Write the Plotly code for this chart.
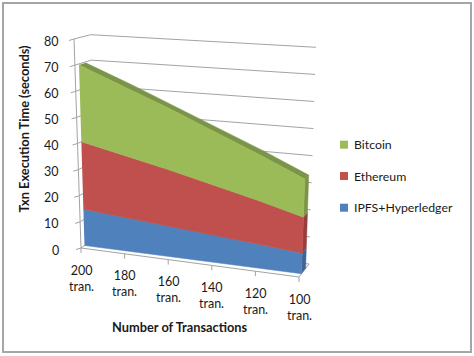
import numpy as np
import plotly.graph_objects as go

categories = ["200<br>tran.", "180<br>tran.", "160<br>tran.", "140<br>tran.", "120<br>tran.", "100<br>tran."]
value_ticks = [0, 10, 20, 30, 40, 50, 60, 70, 80]
ipfs = [14.0, 12.7, 11.4, 10.0, 8.7, 7.4]
ethereum = [26.0, 23.4, 20.9, 18.3, 15.7, 12.9]
bitcoin = [29.6, 26.3, 22.9, 19.7, 16.7, 13.7]
series_names = ["IPFS+Hyperledger", "Ethereum", "Bitcoin"]
face_colors = ["#4f81bd", "#c0504d", "#9bbb59"]
side_colors = ["#3d6596", "#953e3b", "#7a9547"]
GRID = "#a3a3a3"
TEXT = "#1a1a1a"
FONT = "Lato"

# projection corners of the chart box (front/back, bottom/top, left/right)
C = {
    (0, 0, 0): (81, 248), (1, 0, 0): (299, 277), (0, 1, 0): (74, 39), (1, 1, 0): (307, 52),
    (0, 0, 1): (95, 238), (1, 0, 1): (309, 264), (0, 1, 1): (90.7, 34.7), (1, 1, 1): (316, 47.3),
}
Z_FRONT, Z_BACK = 0.25, 0.66


def proj(u, v, z):
    px = py = 0.0
    for i in (0, 1):
        for j in (0, 1):
            for k in (0, 1):
                w = (u if i else 1 - u) * (v if j else 1 - v) * (z if k else 1 - z)
                px += w * C[(i, j, k)][0]
                py += w * C[(i, j, k)][1]
    return px, py


def path(points):
    xy = [proj(*p) for p in points]
    return [a for a, _ in xy], [b for _, b in xy]


fig = go.Figure()


def line(points, color=GRID, width=1):
    x, y = path(points)
    fig.add_trace(go.Scatter(x=x, y=y, mode="lines", line=dict(color=color, width=width),
                             hoverinfo="skip", showlegend=False))


def poly(points, color):
    x, y = path(points)
    fig.add_trace(go.Scatter(x=x, y=y, mode="lines", fill="toself", fillcolor=color,
                             line=dict(color=color, width=0.5), hoverinfo="skip", showlegend=False))


n = len(categories)
us = [i / (n - 1) for i in range(n)]
VMAX = value_ticks[-1]

# walls and floor
for t in value_ticks:
    v = t / VMAX
    line([(0, v, 0), (0, v, 1), (1, v, 1)])
line([(0, 0, 0), (0, 1, 0)])
line([(0, 0, 0), (1, 0, 0), (1, 0, 1)])
for u in us:
    x0, y0 = proj(u, 0, 0)
    fig.add_trace(go.Scatter(x=[x0, x0], y=[y0, y0 + 5], mode="lines", line=dict(color=GRID, width=1),
                             hoverinfo="skip", showlegend=False))
for t in value_ticks:
    x0, y0 = proj(0, t / VMAX, 0)
    fig.add_trace(go.Scatter(x=[x0 - 5, x0], y=[y0 + 1.5, y0], mode="lines", line=dict(color=GRID, width=1),
                             hoverinfo="skip", showlegend=False))

# stacked areas
base = np.zeros(n)
stacks = []
for vals in (ipfs, ethereum, bitcoin):
    top = base + np.array(vals)
    stacks.append((base.copy(), top.copy()))
    base = top

for (lo, hi), side in zip(stacks, side_colors):
    poly([(1, lo[-1] / VMAX, Z_FRONT), (1, hi[-1] / VMAX, Z_FRONT),
          (1, hi[-1] / VMAX, Z_BACK), (1, lo[-1] / VMAX, Z_BACK)], side)

top_vals = stacks[-1][1]
poly([(u, h / VMAX, Z_FRONT) for u, h in zip(us, top_vals)] +
     [(u, h / VMAX, Z_BACK) for u, h in zip(us[::-1], top_vals[::-1])], side_colors[2])

for (lo, hi), color in zip(stacks, face_colors):
    poly([(u, h / VMAX, Z_FRONT) for u, h in zip(us, hi)] +
         [(u, l / VMAX, Z_FRONT) for u, l in zip(us[::-1], lo[::-1])], color)

# tick labels
for t in value_ticks:
    x0, y0 = proj(0, t / VMAX, 0)
    fig.add_annotation(x=61, y=y0 + 2, text=str(t), showarrow=False, xanchor="right", yanchor="middle",
                       font=dict(family=FONT, size=12.5, color=TEXT))
for u, c in zip(us, categories):
    x0, y0 = proj(u, 0, 0)
    fig.add_annotation(x=x0, y=y0 + 30, text=c, showarrow=False, xanchor="center", yanchor="middle",
                       font=dict(family=FONT, size=12.5, color=TEXT), align="center")

fig.add_annotation(x=180, y=327, text="<b>Number of Transactions</b>", showarrow=False,
                   font=dict(family=FONT, size=12.8, color=TEXT))
fig.add_annotation(x=23, y=128.5, text="<b>Txn Execution Time (seconds)</b>", showarrow=False, textangle=-90,
                   font=dict(family=FONT, size=12.8, color=TEXT))

# legend
for name, color, ly in zip(series_names[::-1], face_colors[::-1], [144.7, 176, 207.7]):
    fig.add_trace(go.Scatter(x=[344], y=[ly], mode="markers", hoverinfo="skip", showlegend=False,
                             marker=dict(symbol="square", size=8, color=color)))
    fig.add_annotation(x=351.5, y=ly, text=name, showarrow=False, xanchor="left", yanchor="middle",
                       font=dict(family=FONT, size=12.3, color=TEXT))

fig.add_shape(type="rect", x0=3, y0=3, x1=471, y1=352, line=dict(color="#a6a6a6", width=2),
              fillcolor="rgba(0,0,0,0)")

fig.update_layout(
    width=474, height=356, margin=dict(l=0, r=0, t=0, b=0), paper_bgcolor="white", plot_bgcolor="white",
    xaxis=dict(range=[0, 474], visible=False, fixedrange=True),
    yaxis=dict(range=[356, 0], visible=False, fixedrange=True),
    showlegend=False,
)
fig.write_html("out.html", config={"displayModeBar": False},
               post_script="document.body.style.margin='0';document.documentElement.style.overflow='hidden';")
